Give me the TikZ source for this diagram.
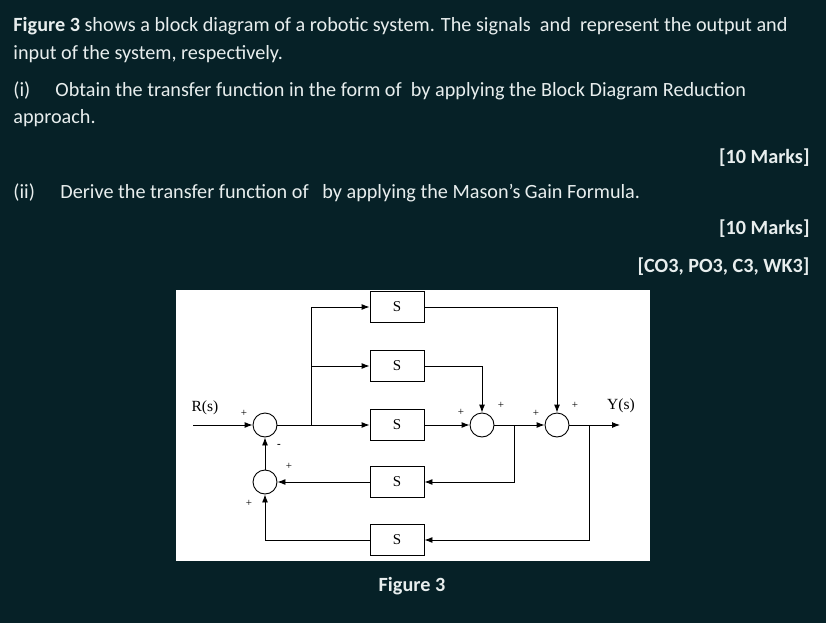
\documentclass[tikz,border=0pt]{standalone}
\usepackage{fontspec}
\setmainfont{Carlito}
\newfontfamily\serif{Liberation Serif}
\usetikzlibrary{arrows.meta}
\definecolor{bg}{HTML}{062127}
\definecolor{fg}{HTML}{E8EEEE}
\begin{document}
\begin{tikzpicture}[x=1pt,y=-1pt,
  txt/.style={text=fg,font=\fontsize{20.2}{24}\selectfont,inner sep=0pt},
  blk/.style={draw,fill=white,minimum width=54pt,minimum height=31pt,inner sep=0pt,font=\serif\fontsize{15}{17}\selectfont},
  sumj/.style={draw,circle,minimum size=24pt,inner sep=0pt},
  sig/.style={font=\serif\fontsize{11}{12}\selectfont,inner sep=0pt},
  ar/.style={-{Latex[length=8pt,width=6pt]}},
  every path/.style={line width=0.9pt}]
\useasboundingbox (0,0) rectangle (826,623);
\fill[bg] (0,0) rectangle (826,623);
\node[txt,anchor=base west] (l1) at (13,32) {\textbf{Figure 3} shows a block diagram of a robotic system. The signals\ \ and\ \ represent the output and};
\node[txt,anchor=base west] (l2) at (13,60) {input of the system, respectively.};
\node[txt,anchor=base west] (l3a) at (13,97) {(i)};
\node[txt,anchor=base west] (l3) at (55,97) {Obtain the transfer function in the form of\ \ by applying the Block Diagram Reduction};
\node[txt,anchor=base west] (l4) at (13,124) {approach.};
\node[txt,anchor=base east] (m1) at (810,163) {\textbf{[10 Marks]}};
\node[txt,anchor=base west] (l5a) at (13,198) {(ii)};
\node[txt,anchor=base west] (l5) at (60,198) {Derive the transfer function of\ \ \ by applying the Mason's Gain Formula.};
\node[txt,anchor=base east] (m2) at (810,234) {\textbf{[10 Marks]}};
\node[txt,anchor=base east] (m3) at (810,272) {\textbf{[CO3, PO3, C3, WK3]}};
\node[txt,anchor=base] (cap) at (412,591) {\textbf{Figure 3}};
\fill[white] (176,290) rectangle (650,561);
\begin{scope}[draw=black]
\node[sumj] (s1) at (265,425) {};
\node[sumj] (s2) at (265,482) {};
\node[sumj] (s3) at (482,425) {};
\node[sumj] (s4) at (557,425) {};
\node[blk] (b1) at (397,307) {S};
\node[blk] (b2) at (397,366) {S};
\node[blk] (b3) at (397,425) {S};
\node[blk] (b4) at (397,482) {S};
\node[blk] (b5) at (397,540) {S};
\coordinate (in) at (193,425);
\coordinate (out) at (620,425);
\coordinate (br) at (311,425);
\coordinate (t1) at (311,307);
\coordinate (t2) at (311,366);
\coordinate (p3) at (514,425);
\coordinate (p4) at (589,425);
\draw[ar] (in) -- (s1);
\draw (s1) -- (br);
\draw[ar] (br) -- (b3);
\draw (br) -- (t1);
\draw[ar] (t1) -- (b1);
\draw[ar] (t2) -- (b2);
\draw[ar] (b1) -| (s4);
\draw[ar] (b2) -| (s3);
\draw[ar] (b3) -- (s3);
\draw[ar] (s3) -- (s4);
\draw[ar] (s4) -- (out);
\draw[ar] (p3) |- (b4);
\draw[ar] (p4) |- (b5);
\draw[ar] (b4) -- (s2);
\draw[ar] (b5) -| (s2);
\draw[ar] (s2) -- (s1);
\node[font=\serif\fontsize{15.5}{17}\selectfont] (R) at (205,408) {R(s)};
\node[font=\serif\fontsize{15.5}{17}\selectfont] (Y) at (621,406) {Y(s)};
\node[sig] at (244,413) {+};
\node[sig] at (279,446) {\textbf{-}};
\node[sig] at (289,466) {+};
\node[sig] at (249,503) {+};
\node[sig] at (461,412) {+};
\node[sig] at (501,405) {+};
\node[sig] at (536,413) {+};
\node[sig] at (575,405) {+};
\end{scope}
\end{tikzpicture}
\end{document}
